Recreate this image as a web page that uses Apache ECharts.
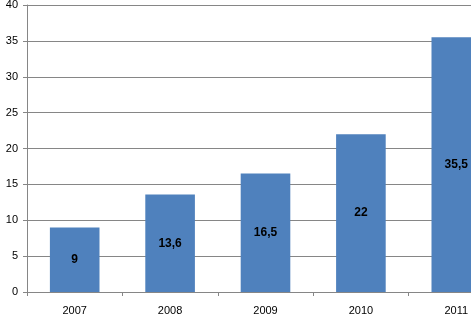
<!DOCTYPE html>
<html><head><meta charset="utf-8">
<script src="https://cdn.jsdelivr.net/npm/echarts@6/dist/echarts.min.js"></script>
<style>html,body{margin:0;padding:0;background:#fff;overflow:hidden;width:471px;height:314px}#c{width:504px;height:314px}</style>
</head><body><div id="c"></div>
<script>
const categories = ['2007','2008','2009','2010','2011'];
const values = [9, 13.6, 16.5, 22, 35.5];
const labels = ['9','13,6','16,5','22','35,5'];
const chart = echarts.init(document.getElementById('c'));
chart.setOption({
  animation:false,
  grid:{left:27,right:0,top:5,bottom:22,outerBoundsMode:'none',containLabel:false},
  xAxis:{type:'category',data:categories,
    axisLine:{lineStyle:{color:'#868686'}},
    axisTick:{show:true,length:4,lineStyle:{color:'#868686'}},
    axisLabel:{color:'#000',fontFamily:'Liberation Sans',fontSize:11,margin:13}},
  yAxis:{type:'value',min:0,max:40,interval:5,
    axisLine:{show:true,lineStyle:{color:'#868686'}},
    axisTick:{show:true,length:4,lineStyle:{color:'#868686'}},
    splitLine:{lineStyle:{color:'#868686'}},
    axisLabel:{color:'#000',fontFamily:'Liberation Sans',fontSize:11,margin:9}},
  series:[{type:'bar',data:values,barWidth:'52%',
    itemStyle:{color:'#4F81BD'},
    label:{show:true,position:'inside',color:'#000',fontWeight:'bold',fontFamily:'Liberation Sans',fontSize:12,
      formatter:p=>labels[p.dataIndex]}}]
});
</script></body></html>
